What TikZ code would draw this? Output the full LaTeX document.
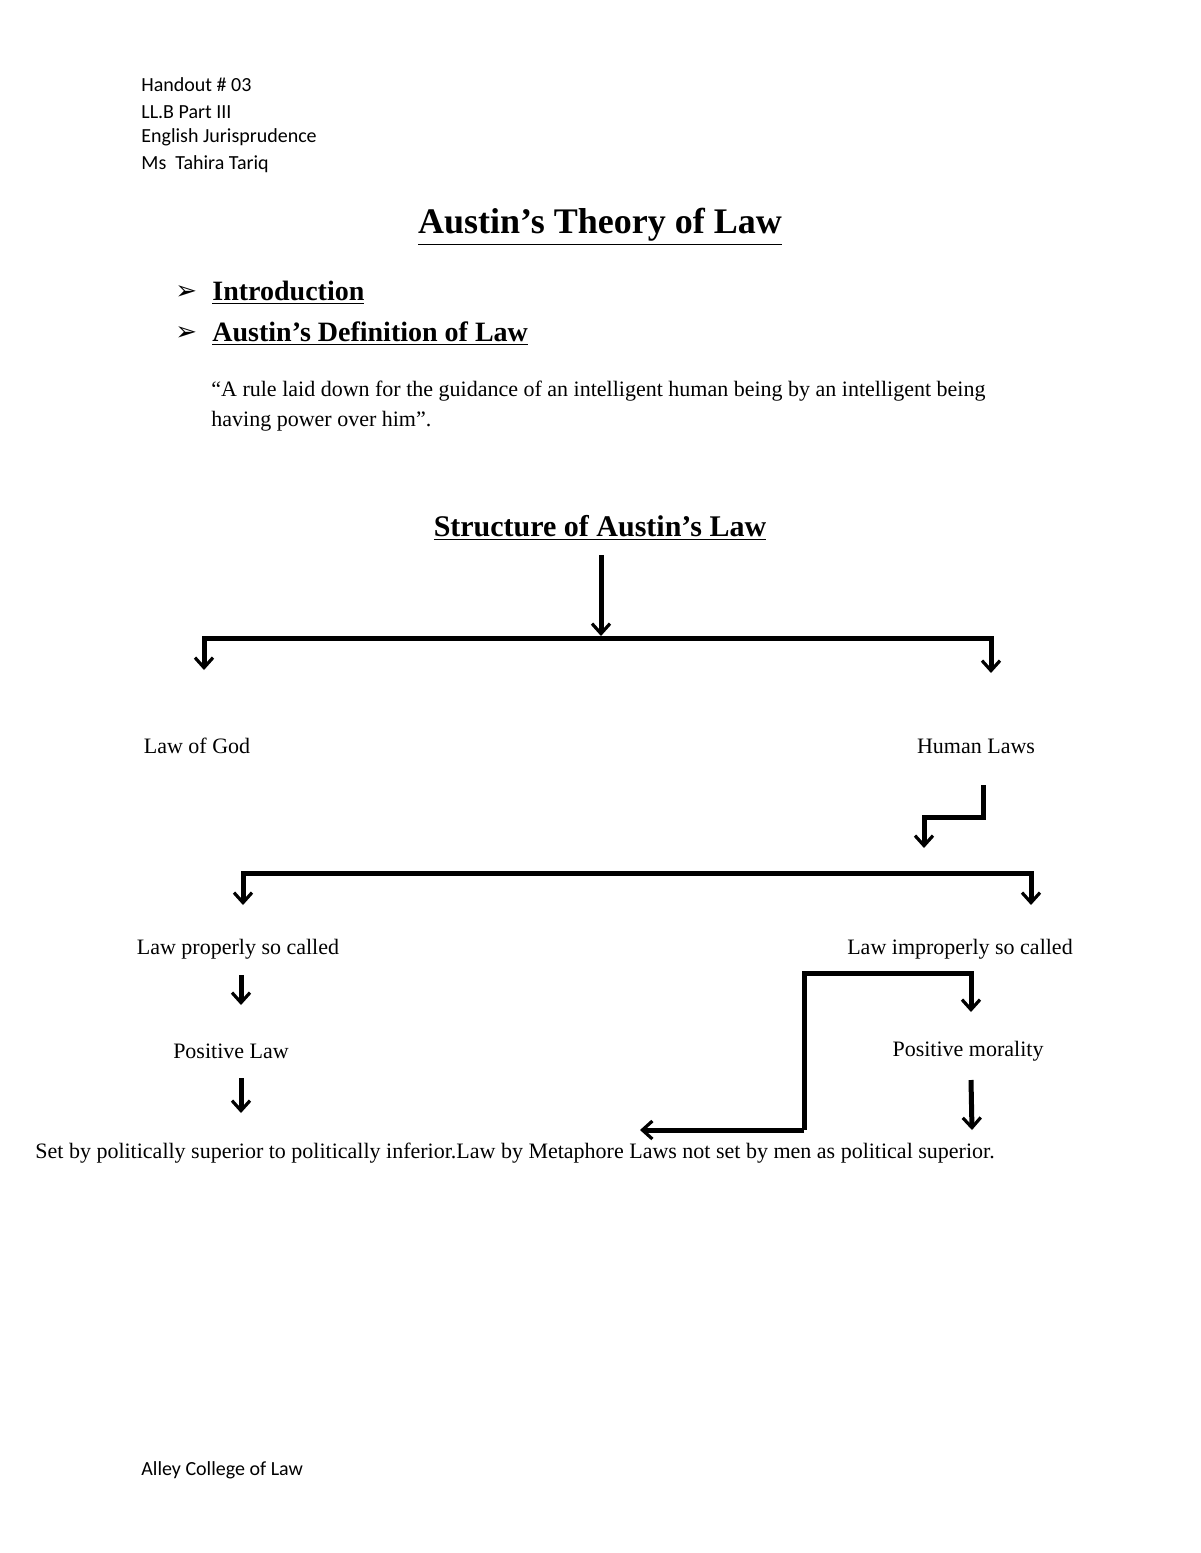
\documentclass[tikz,border=0pt]{standalone}
\usepackage{fontspec}
\setmainfont{Liberation Serif}
\newfontfamily\hdr{Carlito}
\newfontfamily\sym{DejaVu Sans}
\usetikzlibrary{arrows.meta}
\begin{document}
\begin{tikzpicture}[x=0.5pt,y=-0.5pt,
  conn/.style={line width=2.5pt,-{Straight Barb[length=5pt,width=9pt,line width=1.6pt]}},
  plain/.style={line width=2.5pt},
  hd/.style={anchor=west,inner sep=0,font=\hdr\fontsize{10}{12}\selectfont},
  lab/.style={inner sep=1pt,font=\fontsize{11}{13}\selectfont}]
\useasboundingbox (0,0) rectangle (1200,1553);
\node[hd] (h1) at (141,85) {Handout \# 03};
\node[hd] (h2) at (141,112) {LL.B Part III};
\node[hd] (h3) at (141,137) {English Jurisprudence};
\node[hd] (h4) at (141,164) {Ms\ \ Tahira Tariq};
\node[font=\bfseries\fontsize{18}{20}\selectfont] (title) at (600,227) {\underline{Austin’s Theory of Law}};
\node[anchor=west,inner sep=0,font=\sym\fontsize{13}{15}\selectfont] (b1) at (175,293) {➢};
\node[anchor=west,inner sep=0,font=\bfseries\fontsize{14}{16}\selectfont] (intro) at (212,293) {\underline{Introduction}};
\node[anchor=west,inner sep=0,font=\sym\fontsize{13}{15}\selectfont] (b2) at (175,334) {➢};
\node[anchor=west,inner sep=0,font=\bfseries\fontsize{14}{16}\selectfont] (def) at (212,334) {\underline{Austin’s Definition of Law}};
\node[anchor=west,inner sep=0,font=\fontsize{11}{13}\selectfont] (q1) at (211,391) {“A rule laid down for the guidance of an intelligent human being by an intelligent being};
\node[anchor=west,inner sep=0,font=\fontsize{11}{13}\selectfont] (q2) at (211,421) {having power over him”.};
\node[font=\bfseries\fontsize{15}{17}\selectfont] (st) at (600,528) {\underline{Structure of Austin’s Law}};
\node[lab] (god) at (197,746) {Law of God};
\node[lab] (human) at (976,746) {Human Laws};
\node[lab] (prop) at (238,949) {Law properly so called};
\node[lab] (improp) at (960,949) {Law improperly so called};
\node[lab] (pl) at (231,1051) {Positive Law};
\node[lab] (pm) at (968,1051) {Positive morality};
\node[anchor=west,inner sep=0,font=\fontsize{11}{13}\selectfont] (bottom) at (35,1153) {Set by politically superior to politically inferior.Law by Metaphore Laws not set by men as political superior.};
\node[hd] (foot) at (141,1470) {Alley College of Law};
\coordinate (t0) at (601,555); \coordinate (t1) at (601,636);
\coordinate (a1) at (204,638); \coordinate (a2) at (991,638);
\coordinate (a1e) at (204,670); \coordinate (a2e) at (991,673);
\coordinate (c0) at (983,785); \coordinate (c1) at (924,848);
\coordinate (b1s) at (243,873); \coordinate (b2s) at (1031,873);
\coordinate (b1e) at (243,905); \coordinate (b2e) at (1031,905);
\coordinate (d0) at (241,975); \coordinate (d1) at (241,1005);
\coordinate (e0) at (241,1078); \coordinate (e1) at (241,1113);
\coordinate (f0) at (804,1130); \coordinate (f1) at (971,1012);
\coordinate (f2) at (640,1130);
\coordinate (g0) at (971,1080); \coordinate (g1) at (972,1130);
\draw[conn] (t0) -- (t1);
\draw[conn] (a2) -- (a1) -- (a1e);
\draw[conn] (a1) -- (a2) -- (a2e);
\draw[conn] (c0) |- (924,817) -- (c1);
\draw[conn] (b2s) -- (b1s) -- (b1e);
\draw[conn] (b1s) -- (b2s) -- (b2e);
\draw[conn] (d0) -- (d1);
\draw[conn] (e0) -- (e1);
\draw[conn] (f0) -- (804,973) -| (f1);
\draw[conn] (f0) -- (f2);
\draw[conn] (g0) -- (g1);
\end{tikzpicture}
\end{document}
